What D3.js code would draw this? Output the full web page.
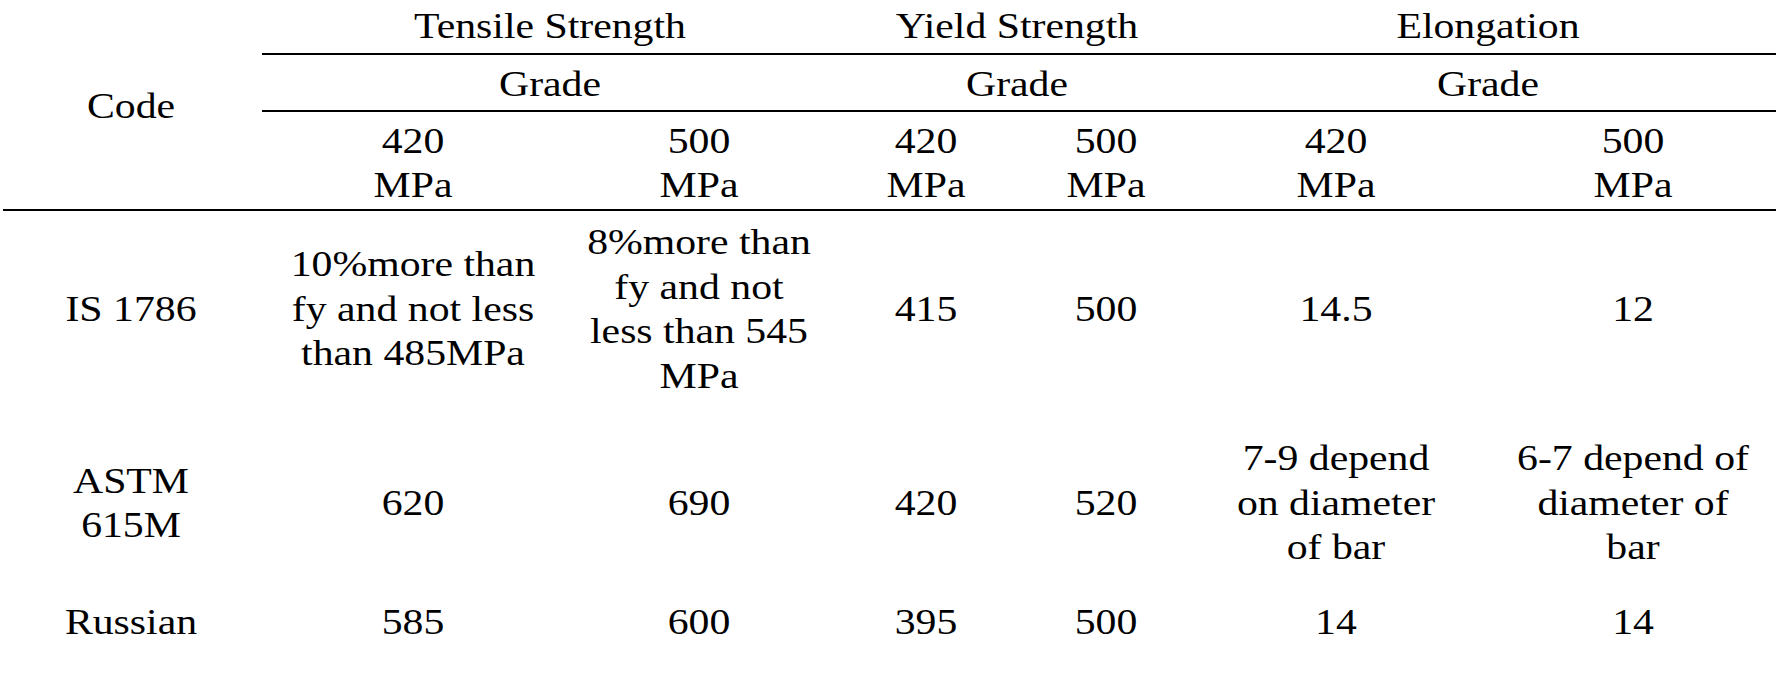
<!DOCTYPE html>
<html><head><meta charset="utf-8">
<script src="https://cdn.jsdelivr.net/npm/d3@7"></script>
<style>body{margin:0;background:#fff}text{font-family:"Liberation Serif","Times New Roman",serif;font-size:36px;fill:#000}</style>
</head><body><svg id="vis" width="1783" height="689"></svg>
<script>
var groups = ["Tensile Strength", "Yield Strength", "Elongation"];
var grades = ["420\nMPa", "500\nMPa", "420\nMPa", "500\nMPa", "420\nMPa", "500\nMPa"];
var codes = ["IS 1786", "ASTM\n615M", "Russian"];
var rows = [
  ["10%more than\nfy and not less\nthan 485MPa", "8%more than\nfy and not\nless than 545\nMPa", "415", "500", "14.5", "12"],
  ["620", "690", "420", "520", "7-9 depend\non diameter\nof bar", "6-7 depend of\ndiameter of\nbar"],
  ["585", "600", "395", "500", "14", "14"]
];

var colX = [413, 699, 926, 1106, 1336, 1633];
var groupX = [550, 1017, 1488];
var rowY = [308, 502, 621];
var lh = 44.5;
var svg = d3.select("#vis");

// reference type is a bit wider than Liberation Serif, so stretch it horizontally
function put(x, y, s) {
  var lines = s.split("\n");
  var t = svg.append("text").attr("text-anchor", "middle").attr("dominant-baseline", "central")
    .attr("transform", "translate(" + x + ",0) scale(1.16,1) translate(" + (-x) + ",0)");
  lines.forEach(function(l, i) {
    t.append("tspan").attr("x", x).attr("y", y + (i - (lines.length - 1) / 2) * lh).text(l);
  });
}

groups.forEach(function(g, i) { put(groupX[i], 25, g); put(groupX[i], 83, "Grade"); });
grades.forEach(function(g, i) { put(colX[i], 162, g); });
put(131, 105, "Code");
codes.forEach(function(c, i) { put(131, rowY[i], c); });
rows.forEach(function(r, i) { r.forEach(function(v, j) { put(colX[j], rowY[i], v); }); });

[[262, 54], [262, 111], [3, 210]].forEach(function(l) {
  svg.append("line").attr("x1", l[0]).attr("x2", 1776).attr("y1", l[1]).attr("y2", l[1])
    .attr("stroke", "#000").attr("stroke-width", 2);
});
</script></body></html>
